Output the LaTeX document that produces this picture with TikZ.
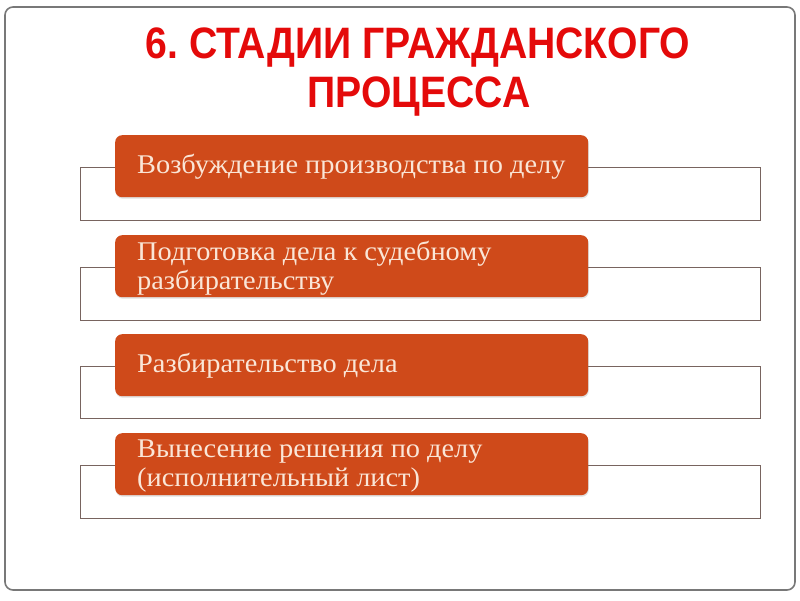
\documentclass[tikz,border=0pt]{standalone}
\usepackage{fontspec}
\setmainfont{Liberation Serif}
\newfontfamily\titlefont[FakeStretch=0.89]{Liberation Sans}
\newfontfamily\boxfont[FakeStretch=1.05]{Liberation Serif}
\usetikzlibrary{shadows}
\frenchspacing
\definecolor{titlered}{RGB}{228,10,10}
\definecolor{stageorange}{RGB}{207,74,26}
\definecolor{stagetext}{RGB}{250,230,215}
\definecolor{outline}{RGB}{120,100,95}
\definecolor{framegray}{RGB}{120,120,120}
\tikzset{
  titletext/.style={text=titlered, font=\titlefont\bfseries\fontsize{44}{50}\selectfont, inner sep=0pt},
  stagebox/.style={draw=none, fill=stageorange, rounded corners=7pt,
    drop shadow={shadow xshift=0.6pt, shadow yshift=-1.5pt, opacity=0.25},
    minimum width=473pt, minimum height=62pt, anchor=north west},
  stagelabel/.style={text=stagetext, font=\boxfont\fontsize{27}{28.5}\selectfont, anchor=west, align=left, inner sep=0pt},
  stageframe/.style={draw=outline, line width=0.9pt, fill=white},
}
\begin{document}
\begin{tikzpicture}[x=1pt,y=-1pt]
\useasboundingbox (0,0) rectangle (800,600);
\draw[framegray, line width=1.6pt, rounded corners=8pt] (5,7) rectangle (795,590);
\node[titletext] (t1) at (418,48) {6. СТАДИИ ГРАЖДАНСКОГО};
\node[titletext] (t2) at (419,97) {ПРОЦЕССА};
% stage 1
\draw[stageframe] (80,167) rectangle (760,220);
\node[stagebox] (s1) at (115,135) {};
\node[stagelabel] (l1) at (137,167) {Возбуждение производства по делу};
% stage 2
\draw[stageframe] (80,267) rectangle (760,320);
\node[stagebox] (s2) at (115,235) {};
\node[stagelabel] (l2) at (137,268) {Подготовка дела к судебному\\разбирательству};
% stage 3
\draw[stageframe] (80,366) rectangle (760,418);
\node[stagebox] (s3) at (115,334) {};
\node[stagelabel] (l3) at (137,366) {Разбирательство дела};
% stage 4
\draw[stageframe] (80,465) rectangle (760,518);
\node[stagebox] (s4) at (115,433) {};
\node[stagelabel] (l4) at (137,466) {Вынесение решения по делу\\(исполнительный лист)};
\end{tikzpicture}
\end{document}
